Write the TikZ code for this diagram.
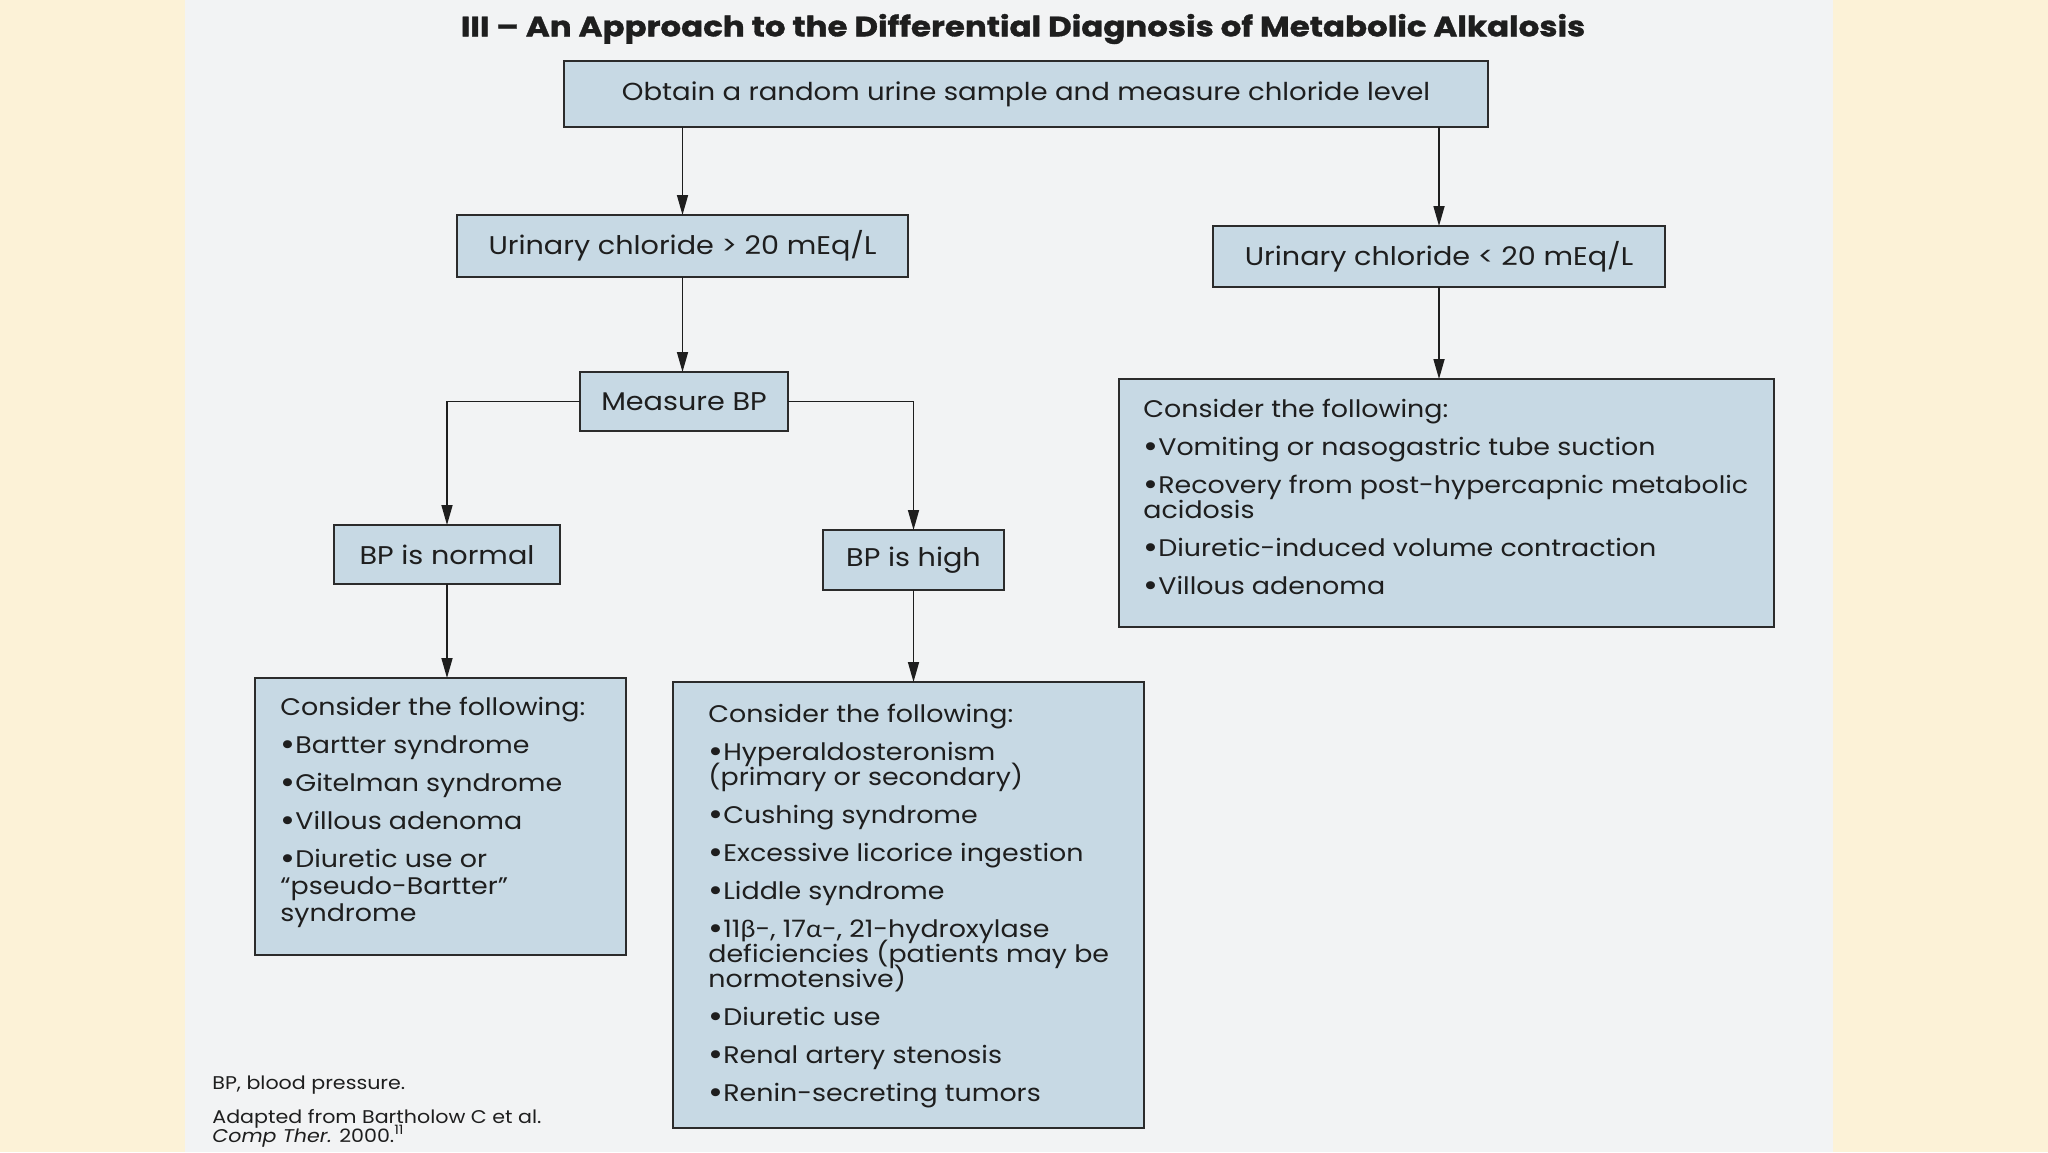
\documentclass[tikz,border=0pt]{standalone}
\usepackage{fontspec}
\setmainfont{Poppins}[FakeStretch=1.12]
\newfontfamily\grk{Lato}[FakeStretch=1.12]
\newfontfamily\titlefont{Poppins}[FakeStretch=1.16, BoldFeatures={FakeBold=1.2}]
\usetikzlibrary{arrows.meta}
\lineskiplimit=-50pt
\newcommand\bul{\raisebox{-0.07em}{\scalebox{1.35}{•}}}
\definecolor{cream}{HTML}{FCF2D7}
\definecolor{paper}{HTML}{F2F3F4}
\definecolor{boxfill}{HTML}{C7D9E4}
\definecolor{boxline}{HTML}{2B2B2B}
\definecolor{ink}{HTML}{1E1E1E}
\tikzset{
  box/.style={draw=boxline, fill=boxfill, line width=1.2pt, inner sep=0pt, outer sep=0pt,
    text=ink, font=\fontsize{12.8}{13}\selectfont},
  listtext/.style={anchor=north west, inner sep=0pt, align=left, text=ink,
    font=\fontsize{12}{12.5}\selectfont},
  arr/.style={draw=ink, line width=0.8pt, -{Triangle[length=10pt,width=5.5pt]}},
}
\begin{document}
\begin{tikzpicture}[x=0.5pt,y=-0.5pt]
\useasboundingbox (0,0) rectangle (2048,1152);
\fill[cream] (0,0) rectangle (2048,1152);
\fill[paper] (185,0) rectangle (1833,1152);

\node[inner sep=0pt, text=ink, font=\titlefont\bfseries\fontsize{14}{15}\selectfont] (title) at (1023,29)
  {III – An Approach to the Differential Diagnosis of Metabolic Alkalosis};

\node[box, minimum width=462pt, minimum height=33pt, font=\fontsize{12.3}{13}\selectfont] (top) at (1026,94)
  {Obtain a random urine sample and measure chloride level};
\node[box, minimum width=225.5pt, minimum height=31pt] (ugt) at (682.5,246)
  {Urinary chloride > 20 mEq/L};
\node[box, minimum width=226pt, minimum height=30.5pt] (ult) at (1439,256.5)
  {Urinary chloride < 20 mEq/L};
\node[box, minimum width=104pt, minimum height=29.5pt] (mbp) at (684,401.5)
  {Measure BP};
\node[box, minimum width=113pt, minimum height=29.5pt] (bpn) at (447,554.5)
  {BP is normal};
\node[box, minimum width=90.5pt, minimum height=30pt] (bph) at (913.5,560)
  {BP is high};

\node[box, minimum width=327.5pt, minimum height=124pt] (consR) at (1446.5,503) {};
\node[box, minimum width=185.5pt, minimum height=138.5pt] (consL) at (440.5,816.5) {};
\node[box, minimum width=235.5pt, minimum height=223pt] (consM) at (908.5,905) {};

\node[listtext] (consRtxt) at (1143,399) {Consider the following:\\[6.5pt]
  \bul Vomiting or nasogastric tube suction\\[6.5pt]
  \bul Recovery from post-hypercapnic metabolic\\
  acidosis\\[6.5pt]
  \bul Diuretic-induced volume contraction\\[6.5pt]
  \bul Villous adenoma};

\node[listtext] (consLtxt) at (280,697) {Consider the following:\\[6.5pt]
  \bul Bartter syndrome\\[6.5pt]
  \bul Gitelman syndrome\\[6.5pt]
  \bul Villous adenoma\\[6.5pt]
  \bul Diuretic use or\\[1pt]
  “pseudo-Bartter”\\[1pt]
  syndrome};

\node[listtext] (consMtxt) at (708,704) {Consider the following:\\[6.5pt]
  \bul Hyperaldosteronism\\
  (primary or secondary)\\[6.5pt]
  \bul Cushing syndrome\\[6.5pt]
  \bul Excessive licorice ingestion\\[6.5pt]
  \bul Liddle syndrome\\[6.5pt]
  \bul 11{\grk β}-, 17{\grk α}-, 21-hydroxylase\\
  deficiencies (patients may be\\
  normotensive)\\[6.5pt]
  \bul Diuretic use\\[6.5pt]
  \bul Renal artery stenosis\\[6.5pt]
  \bul Renin-secreting tumors};

\node[anchor=north west, inner sep=0pt, align=left, text=ink,
  font=\fontsize{9.2}{9.5}\selectfont] (foot) at (212,1075)
  {BP, blood pressure.\\[7.5pt]
  Adapted from Bartholow C et al.\\
  \textit{Comp Ther.} 2000.\textsuperscript{11}};

\draw[arr] (ugt.north |- top.south) -- (ugt.north);
\draw[arr] (ult.north |- top.south) -- (ult.north);
\draw[arr] (ugt.south) -- (ugt.south |- mbp.north);
\draw[arr] (mbp.west) -| (bpn.north);
\draw[arr] (mbp.east) -| (bph.north);
\draw[arr] (bpn.south) -- (bpn.south |- consL.north);
\draw[arr] (bph.south) -- (bph.south |- consM.north);
\draw[arr] (ult.south) -- (ult.south |- consR.north);
\end{tikzpicture}
\end{document}
